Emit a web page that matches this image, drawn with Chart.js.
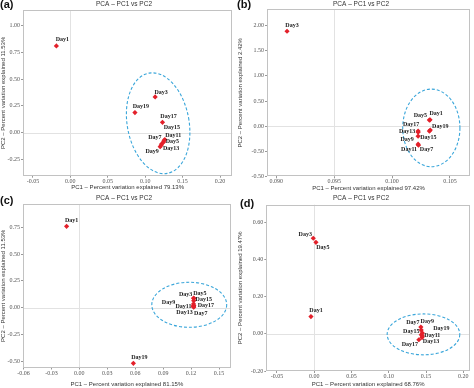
<!DOCTYPE html>
<html>
<head>
<meta charset="utf-8">
<script src="https://cdn.jsdelivr.net/npm/chart.js@4.4.0/dist/chart.umd.min.js"></script>
<style>
html, body { margin: 0; padding: 0; background: #fff; }
#wrap { position: relative; width: 474px; height: 388px; }
.panel { position: absolute; width: 237px; height: 194px; }
</style>
</head>
<body>
<div id="wrap">
  <div class="panel" style="left:0;top:0"><canvas id="chartA" width="237" height="194"></canvas></div>
  <div class="panel" style="left:237px;top:0"><canvas id="chartB" width="237" height="194"></canvas></div>
  <div class="panel" style="left:0;top:194px"><canvas id="chartC" width="237" height="194"></canvas></div>
  <div class="panel" style="left:237px;top:194px"><canvas id="chartD" width="237" height="194"></canvas></div>
</div>
<script>
// (a)
const aDays = ['Day1', 'Day3', 'Day19', 'Day17', 'Day15', 'Day11', 'Day5', 'Day7', 'Day13', 'Day9'];
const aPC1 = [-0.0187, 0.1133, 0.0863, 0.1231, 0.1262, 0.1253, 0.1244, 0.1222, 0.1213, 0.1200];
const aPC2 = [0.811, 0.333, 0.187, 0.096, -0.065, -0.075, -0.090, -0.105, -0.118, -0.133];
const aXTicks = [-0.05, 0, 0.05, 0.10, 0.15, 0.20];
const aXTickLabels = ['-0.05', '0.00', '0.05', '0.10', '0.15', '0.20'];
const aYTicks = [-0.25, 0, 0.25, 0.50, 0.75, 1.00];
const aYTickLabels = ['-0.25', '0.00', '0.25', '0.50', '0.75', '1.00'];

// (b)
const bDays = ['Day3', 'Day5', 'Day1', 'Day19', 'Day15', 'Day17', 'Day13', 'Day9', 'Day11', 'Day7'];
const bPC1 = [0.09093, 0.10322, 0.10328, 0.10330, 0.10322, 0.10225, 0.10225, 0.10225, 0.10225, 0.10228];
const bPC2 = [1.89, 0.12, 0.125, -0.08, -0.10, -0.10, -0.12, -0.20, -0.36, -0.38];
const bXTicks = [0.090, 0.095, 0.100, 0.105];
const bXTickLabels = ['0.090', '0.095', '0.100', '0.105'];
const bYTicks = [-1.0, -0.5, 0, 0.5, 1.0, 1.5, 2.0];
const bYTickLabels = ['-0.50', '-0.50', '0.00', '0.50', '1.00', '1.50', '2.00'];

// (c)
const cDays = ['Day1', 'Day19', 'Day3', 'Day5', 'Day15', 'Day9', 'Day17', 'Day11', 'Day13', 'Day7'];
const cPC1 = [-0.0137, 0.058, 0.1227, 0.1229, 0.1228, 0.1226, 0.1229, 0.1225, 0.1226, 0.1228];
const cPC2 = [0.759, -0.519, 0.090, 0.085, 0.065, 0.035, 0.020, 0.015, 0.010, 0.005];
const cXTicks = [-0.06, -0.03, 0, 0.03, 0.06, 0.09, 0.12, 0.15];
const cXTickLabels = ['-0.06', '-0.03', '0.00', '0.03', '0.06', '0.09', '0.12', '0.15'];
const cYTicks = [-0.50, -0.25, 0, 0.25, 0.50, 0.75];
const cYTickLabels = ['-0.50', '-0.25', '0.00', '0.25', '0.50', '0.75'];

// (d)
const dDays = ['Day3', 'Day5', 'Day1', 'Day7', 'Day9', 'Day19', 'Day15', 'Day11', 'Day13', 'Day17'];
const dPC1 = [-0.0013, 0.0023, -0.0044, 0.1430, 0.1435, 0.1450, 0.1435, 0.1450, 0.1445, 0.1403];
const dPC2 = [0.514, 0.492, 0.093, 0.036, 0.020, 0.004, -0.005, -0.012, -0.020, -0.032];
const dXTicks = [-0.05, 0, 0.05, 0.10, 0.15, 0.20];
const dXTickLabels = ['-0.05', '0.00', '0.05', '0.10', '0.15', '0.20'];
const dYTicks = [-0.20, 0, 0.20, 0.40, 0.60];
const dYTickLabels = ['-0.20', '0.00', '0.20', '0.40', '0.60'];

const chartTitle = 'PCA \u2013 PC1 vs PC2';

const serif = '"Liberation Serif", "DejaVu Serif", serif';
const sans = '"Liberation Sans", Arial, sans-serif';

function pcaChart(id, p) {
    const decor = {
        id: 'decor',
        beforeDatasetsDraw(chart) {
            const { ctx, chartArea: a, scales: { x, y } } = chart;
            ctx.save();
            // reference lines
            ctx.strokeStyle = '#e2e2e2';
            ctx.lineWidth = 1;
            const vx = Math.round(x.getPixelForValue(p.refX)) + 0.5;
            const hy = Math.round(y.getPixelForValue(0)) + 0.5;
            ctx.beginPath();
            ctx.moveTo(vx, a.top); ctx.lineTo(vx, a.bottom);
            ctx.moveTo(a.left, hy); ctx.lineTo(a.right, hy);
            ctx.stroke();
            // panel frame
            ctx.strokeStyle = '#c2c2c2';
            ctx.strokeRect(Math.round(a.left) + 0.5, Math.round(a.top) + 0.5,
                Math.round(a.right - a.left) - 1, Math.round(a.bottom - a.top) - 1);
            // cluster ellipse
            const e = p.ellipse;
            const cx = x.getPixelForValue(e[0]), cy = y.getPixelForValue(e[1]);
            const w = Math.abs(x.getPixelForValue(e[0] + e[2]) - cx);
            const h = Math.abs(y.getPixelForValue(e[1] + e[3]) - cy);
            ctx.setLineDash([3, 2]);
            ctx.strokeStyle = '#3aa6da';
            ctx.lineWidth = 1.1;
            ctx.beginPath();
            ctx.ellipse(cx, cy, w, h, e[4], 0, Math.PI * 2);
            ctx.stroke();
            ctx.restore();
        },
        afterDatasetsDraw(chart) {
            const { ctx } = chart;
            const pts = chart.getDatasetMeta(0).data;
            ctx.save();
            ctx.font = 'bold 6px ' + serif;
            ctx.fillStyle = '#1a1a1a';
            ctx.textAlign = 'center';
            ctx.textBaseline = 'middle';
            pts.forEach((pt, i) => {
                const o = p.offsets[i];
                ctx.fillText(p.days[i], pt.x + o[0], pt.y + o[1]);
            });
            ctx.restore();
        },
        afterDraw(chart) {
            const { ctx } = chart;
            ctx.save();
            ctx.fillStyle = '#111';
            ctx.font = 'bold 11px ' + sans;
            ctx.textBaseline = 'middle';
            ctx.fillText(p.letter, p.letterPos[0], p.letterPos[1]);
            ctx.fillStyle = '#333';
            ctx.font = '6.5px ' + sans;
            ctx.textAlign = 'center';
            ctx.fillText(chartTitle, 124, 4);
            ctx.restore();
        }
    };

    new Chart(document.getElementById(id), {
        type: 'scatter',
        data: {
            datasets: [{
                data: p.pc1.map((v, i) => ({ x: v, y: p.pc2[i] })),
                pointStyle: 'rectRot',
                pointRadius: 2.6,
                backgroundColor: '#e3202a',
                borderWidth: 0
            }]
        },
        options: {
            responsive: false,
            animation: false,
            devicePixelRatio: 1,
            layout: { padding: { left: 0, right: p.box.right, top: p.box.top, bottom: 0 } },
            plugins: { legend: { display: false }, tooltip: { enabled: false } },
            scales: {
                x: {
                    type: 'linear',
                    min: p.xRange[0],
                    max: p.xRange[1],
                    afterFit: s => { s.height = p.box.xh; },
                    afterBuildTicks: s => { s.ticks = p.xTicks.map(v => ({ value: v })); },
                    ticks: {
                        callback: (v, i) => p.xTickLabels[i],
                        font: { family: serif, size: 6 },
                        color: '#555',
                        padding: 0,
                        maxRotation: 0,
                        autoSkip: false
                    },
                    grid: { drawOnChartArea: false, tickLength: 2, color: '#999' },
                    border: { display: false },
                    title: {
                        display: true,
                        text: p.xTitle,
                        font: { family: sans, size: 6 },
                        color: '#333',
                        padding: { top: 0, bottom: p.box.xtPad }
                    }
                },
                y: {
                    type: 'linear',
                    min: p.yRange[0],
                    max: p.yRange[1],
                    afterFit: s => { s.width = p.box.yw; },
                    afterBuildTicks: s => { s.ticks = p.yTicks.map(v => ({ value: v })); },
                    ticks: {
                        callback: (v, i) => p.yTickLabels[i],
                        font: { family: serif, size: 6 },
                        color: '#555',
                        padding: 1,
                        autoSkip: false
                    },
                    grid: { drawOnChartArea: false, tickLength: 2, color: '#999' },
                    border: { display: false },
                    title: {
                        display: true,
                        text: p.yTitle,
                        font: { family: sans, size: 6 },
                        color: '#333',
                        padding: { top: 0, bottom: 0 }
                    }
                }
            }
        },
        plugins: [decor]
    });
}

pcaChart('chartA', {
    days: aDays, pc1: aPC1, pc2: aPC2,
    xTicks: aXTicks, xTickLabels: aXTickLabels, yTicks: aYTicks, yTickLabels: aYTickLabels,
    xRange: [-0.0633, 0.2164], yRange: [-0.404, 1.147],
    xTitle: 'PC1 \u2013 Percent variation explained 79.13%',
    yTitle: 'PC2 \u2013 Percent variation explained 11.53%',
    refX: 0,
    ellipse: [0.1173, 0.087, 0.0413, 0.477, -0.18],
    offsets: [[6, -6], [6, -5], [6, -6], [6, -6], [7, -12], [9, -5], [9, -1], [-7, -6], [10, 3], [-8, 5]],
    letter: '(a)', letterPos: [0, 5],
    box: { yw: 23, right: 4.7, top: 10, xh: 18.3, xtPad: 2.6 }
});

pcaChart('chartB', {
    days: bDays, pc1: bPC1, pc2: bPC2,
    xTicks: bXTicks, xTickLabels: bXTickLabels, yTicks: bYTicks, yTickLabels: bYTickLabels,
    xRange: [0.0892, 0.10673], yRange: [-1.0, 2.327],
    xTitle: 'PC1 \u2013 Percent variation explained 97.42%',
    yTitle: 'PC2 \u2013 Percent variation explained 2.42%',
    refX: 0.095,
    ellipse: [0.10339, -0.036, 0.00247, 0.773, 0],
    offsets: [[5, -6], [-9, -5], [6, -6], [10, -4], [-1, 6], [-7, -7], [-11, -1], [-11, 3], [-9, 5], [8, 4]],
    letter: '(b)', letterPos: [0, 5],
    box: { yw: 30, right: 4, top: 9.3, xh: 17.7, xtPad: 2.1 }
});

pcaChart('chartC', {
    days: cDays, pc1: cPC1, pc2: cPC2,
    xTicks: cXTicks, xTickLabels: cXTickLabels, yTicks: cYTicks, yTickLabels: cYTickLabels,
    xRange: [-0.0605, 0.1625], yRange: [-0.558, 0.967],
    xTitle: 'PC1 \u2013 Percent variation explained 81.15%',
    yTitle: 'PC2 \u2013 Percent variation explained 11.53%',
    refX: 0,
    ellipse: [0.118, 0.027, 0.0402, 0.21, 0],
    offsets: [[5, -6], [6, -6], [-8, -4], [6, -5], [10, -1], [-25, -1], [12, 0], [-10, 0], [-9, 6], [7, 6]],
    letter: '(c)', letterPos: [0, 7],
    box: { yw: 23, right: 6.3, top: 10, xh: 20.5, xtPad: 0.4 }
});

pcaChart('chartD', {
    days: dDays, pc1: dPC1, pc2: dPC2,
    xTicks: dXTicks, xTickLabels: dXTickLabels, yTicks: dYTicks, yTickLabels: dYTickLabels,
    xRange: [-0.0643, 0.2089], yRange: [-0.2, 0.6945],
    xTitle: 'PC1 \u2013 Percent variation explained 68.76%',
    yTitle: 'PC2 \u2013 Percent variation explained 19.47%',
    refX: 0,
    ellipse: [0.1465, -0.003, 0.0487, 0.11, 0],
    offsets: [[-8, -4], [7, 5], [5, -6], [-8, -5], [6, -9], [19, -5], [-10, -3], [10, -1], [9, 4], [-9, 5]],
    letter: '(d)', letterPos: [3, 10],
    box: { yw: 29.3, right: 3.7, top: 10.7, xh: 17, xtPad: 0.4 }
});
</script>
</body>
</html>
